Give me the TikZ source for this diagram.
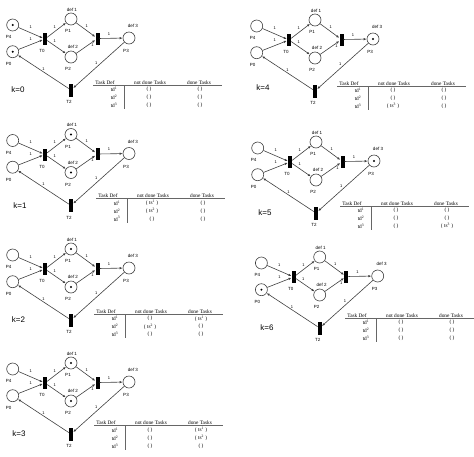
\documentclass[tikz,border=0pt]{standalone}
\usepackage{fontspec}
\setmainfont{Liberation Serif}
\setsansfont{Liberation Sans}
\usetikzlibrary{arrows.meta}

\tikzset{
  place/.style={circle, draw=black!75, line width=0.6pt, minimum size=12pt, inner sep=0pt},
  trans/.style={rectangle, fill=black, minimum width=4pt, minimum height=12pt, inner sep=0pt},
  arc/.style={draw=black!75, line width=0.6pt, -{Latex[length=3pt,width=2.4pt]}},
  lab/.style={font=\sffamily\fontsize{4.5}{5}\selectfont, inner sep=0pt},
  wgt/.style={font=\sffamily\fontsize{4}{4.5}\selectfont, inner sep=0pt},
  klab/.style={font=\sffamily\fontsize{8}{9}\selectfont, inner sep=0pt},
  tab/.style={font=\rmfamily\fontsize{5.3}{6}\selectfont, inner sep=0pt},
  rule/.style={draw=black!60, line width=0.5pt},
}

% one net: #1 name, #2 shift, #3 marked places
\newcommand{\petrinet}[3]{%
  \begin{scope}[shift={#2}]
    \node[place] (#1p4) at (12.7, 25) {};
    \node[place] (#1p0) at (12.7, 51.7) {};
    \node[place] (#1p1) at (71, 19) {};
    \node[place] (#1p2) at (71, 57) {};
    \node[place] (#1p3) at (129, 38) {};
    \node[trans] (#1t0) at (45, 39) {};
    \node[trans] (#1t1) at (97.5, 38.5) {};
    \node[trans, minimum height=13pt] (#1t2) at (71, 90) {};

    \node[lab] (#1np4) at (8.7, 37) {P4};
    \node[lab] (#1np0) at (8.7, 64) {P0};
    \node[lab] (#1nt0) at (42, 51) {T0};
    \node[lab] (#1np1) at (68, 31) {P1};
    \node[lab] (#1dp1) at (72, 9.5) {def 1};
    \node[lab] (#1np2) at (68, 69) {P2};
    \node[lab] (#1dp2) at (73, 47) {def 2};
    \node[lab] (#1np3) at (126, 51) {P3};
    \node[lab] (#1dp3) at (133, 26) {def 3};
    \node[lab] (#1nt2) at (69, 102) {T2};

    \draw[arc] (#1p4) -- node[wgt, above=4pt] (#1w1) {1} (#1t0);
    \draw[arc] (#1p0) -- node[wgt, above=4pt] (#1w2) {1} (#1t0);
    \draw[arc] (#1t0) -- node[wgt, pos=.4, above=3pt] (#1w3) {1} (#1p1);
    \draw[arc] (#1t0) -- node[wgt, pos=.4, above=3pt] (#1w4) {1} (#1p2);
    \draw[arc] (#1p1) -- node[wgt, pos=.55, above=3pt] (#1w5) {1} (#1t1);
    \draw[arc] (#1p2) -- node[wgt, pos=.85, below=1pt] (#1w6) {1} (#1t1);
    \draw[arc] (#1t1) -- node[wgt, pos=.4, above=3pt] (#1w7) {1} (#1p3);
    \draw[arc] (#1p3) -- node[wgt, pos=.55, above=3pt] (#1w8) {1} (#1t2);
    \draw[arc] (#1t2) -- node[wgt, above=1.5pt] (#1w9) {1} (#1p0);

    \foreach \m in {#3} \fill (#1\m) circle (1.1);
  \end{scope}}

% one table: #1 name, #2 shift, #3-#8 cells row by row
\newcommand{\tasktable}[8]{%
  \begin{scope}[shift={#2}]
    \draw[rule] (0, 0) -- (129, 0);
    \draw[rule] (31, 0.8) -- (31, 24);
    \node[tab] (#1h1) at (12, -2.6) {Task Def};
    \node[tab] (#1h2) at (57, -2.6) {not done Tasks};
    \node[tab] (#1h3) at (106, -2.6) {done Tasks};
    \node[tab] (#1d1) at (21, 4.7) {td\textsuperscript{1}};
    \node[tab] (#1d2) at (21, 12.5) {td\textsuperscript{2}};
    \node[tab] (#1d3) at (21, 20.3) {td\textsuperscript{3}};
    \node[tab] (#1a1) at (56, 4.7) {#3};
    \node[tab] (#1b1) at (107, 4.7) {#4};
    \node[tab] (#1a2) at (56, 12.5) {#5};
    \node[tab] (#1b2) at (107, 12.5) {#6};
    \node[tab] (#1a3) at (56, 20.3) {#7};
    \node[tab] (#1b3) at (107, 20.3) {#8};
  \end{scope}}

\def\ts#1{( ts\textsuperscript{#1} )}

\begin{document}
\begin{tikzpicture}[x=1pt, y=-1pt]
  \useasboundingbox (0, 0) rectangle (474, 456);

  %%%%% k=0 %%%%%
  \petrinet{a}{(0, 0)}{p4, p0}
  \tasktable{a}{(93, 85)}{( )}{( )}{( )}{( )}{( )}{( )}
  \node[klab] (ak) at (18, 90) {k=0};

  %%%%% k=1 %%%%%
  \petrinet{b}{(0, 115.5)}{p1, p2}
  \tasktable{b}{(96, 198.5)}{\ts1}{( )}{\ts2}{( )}{( )}{( )}
  \node[klab] (bk) at (20, 206) {k=1};

  %%%%% k=2 %%%%%
  \petrinet{c}{(0, 230)}{p1, p2}
  \tasktable{c}{(94, 314)}{( )}{\ts1}{\ts2}{( )}{( )}{( )}
  \node[klab] (ck) at (18.5, 319.5) {k=2};

  %%%%% k=3 %%%%%
  \petrinet{d}{(0, 344)}{p1, p2}
  \tasktable{d}{(94, 425.5)}{( )}{\ts1}{( )}{\ts2}{( )}{( )}
  \node[klab] (dk) at (19, 434) {k=3};

  %%%%% k=4 %%%%%
  \petrinet{e}{(244, 1)}{p3}
  \tasktable{e}{(337, 86)}{( )}{( )}{( )}{( )}{\ts3}{( )}
  \node[klab] (ek) at (263, 88) {k=4};

  %%%%% k=5 %%%%%
  \petrinet{f}{(245, 123)}{p3}
  \tasktable{f}{(340, 206)}{( )}{( )}{( )}{( )}{( )}{\ts3}
  \node[klab] (fk) at (265, 213) {k=5};

  %%%%% k=6 %%%%%
  \petrinet{g}{(248.7, 238)}{p0}
  \tasktable{g}{(345, 318)}{( )}{( )}{( )}{( )}{( )}{( )}
  \node[klab] (gk) at (267, 328) {k=6};

\end{tikzpicture}
\end{document}
